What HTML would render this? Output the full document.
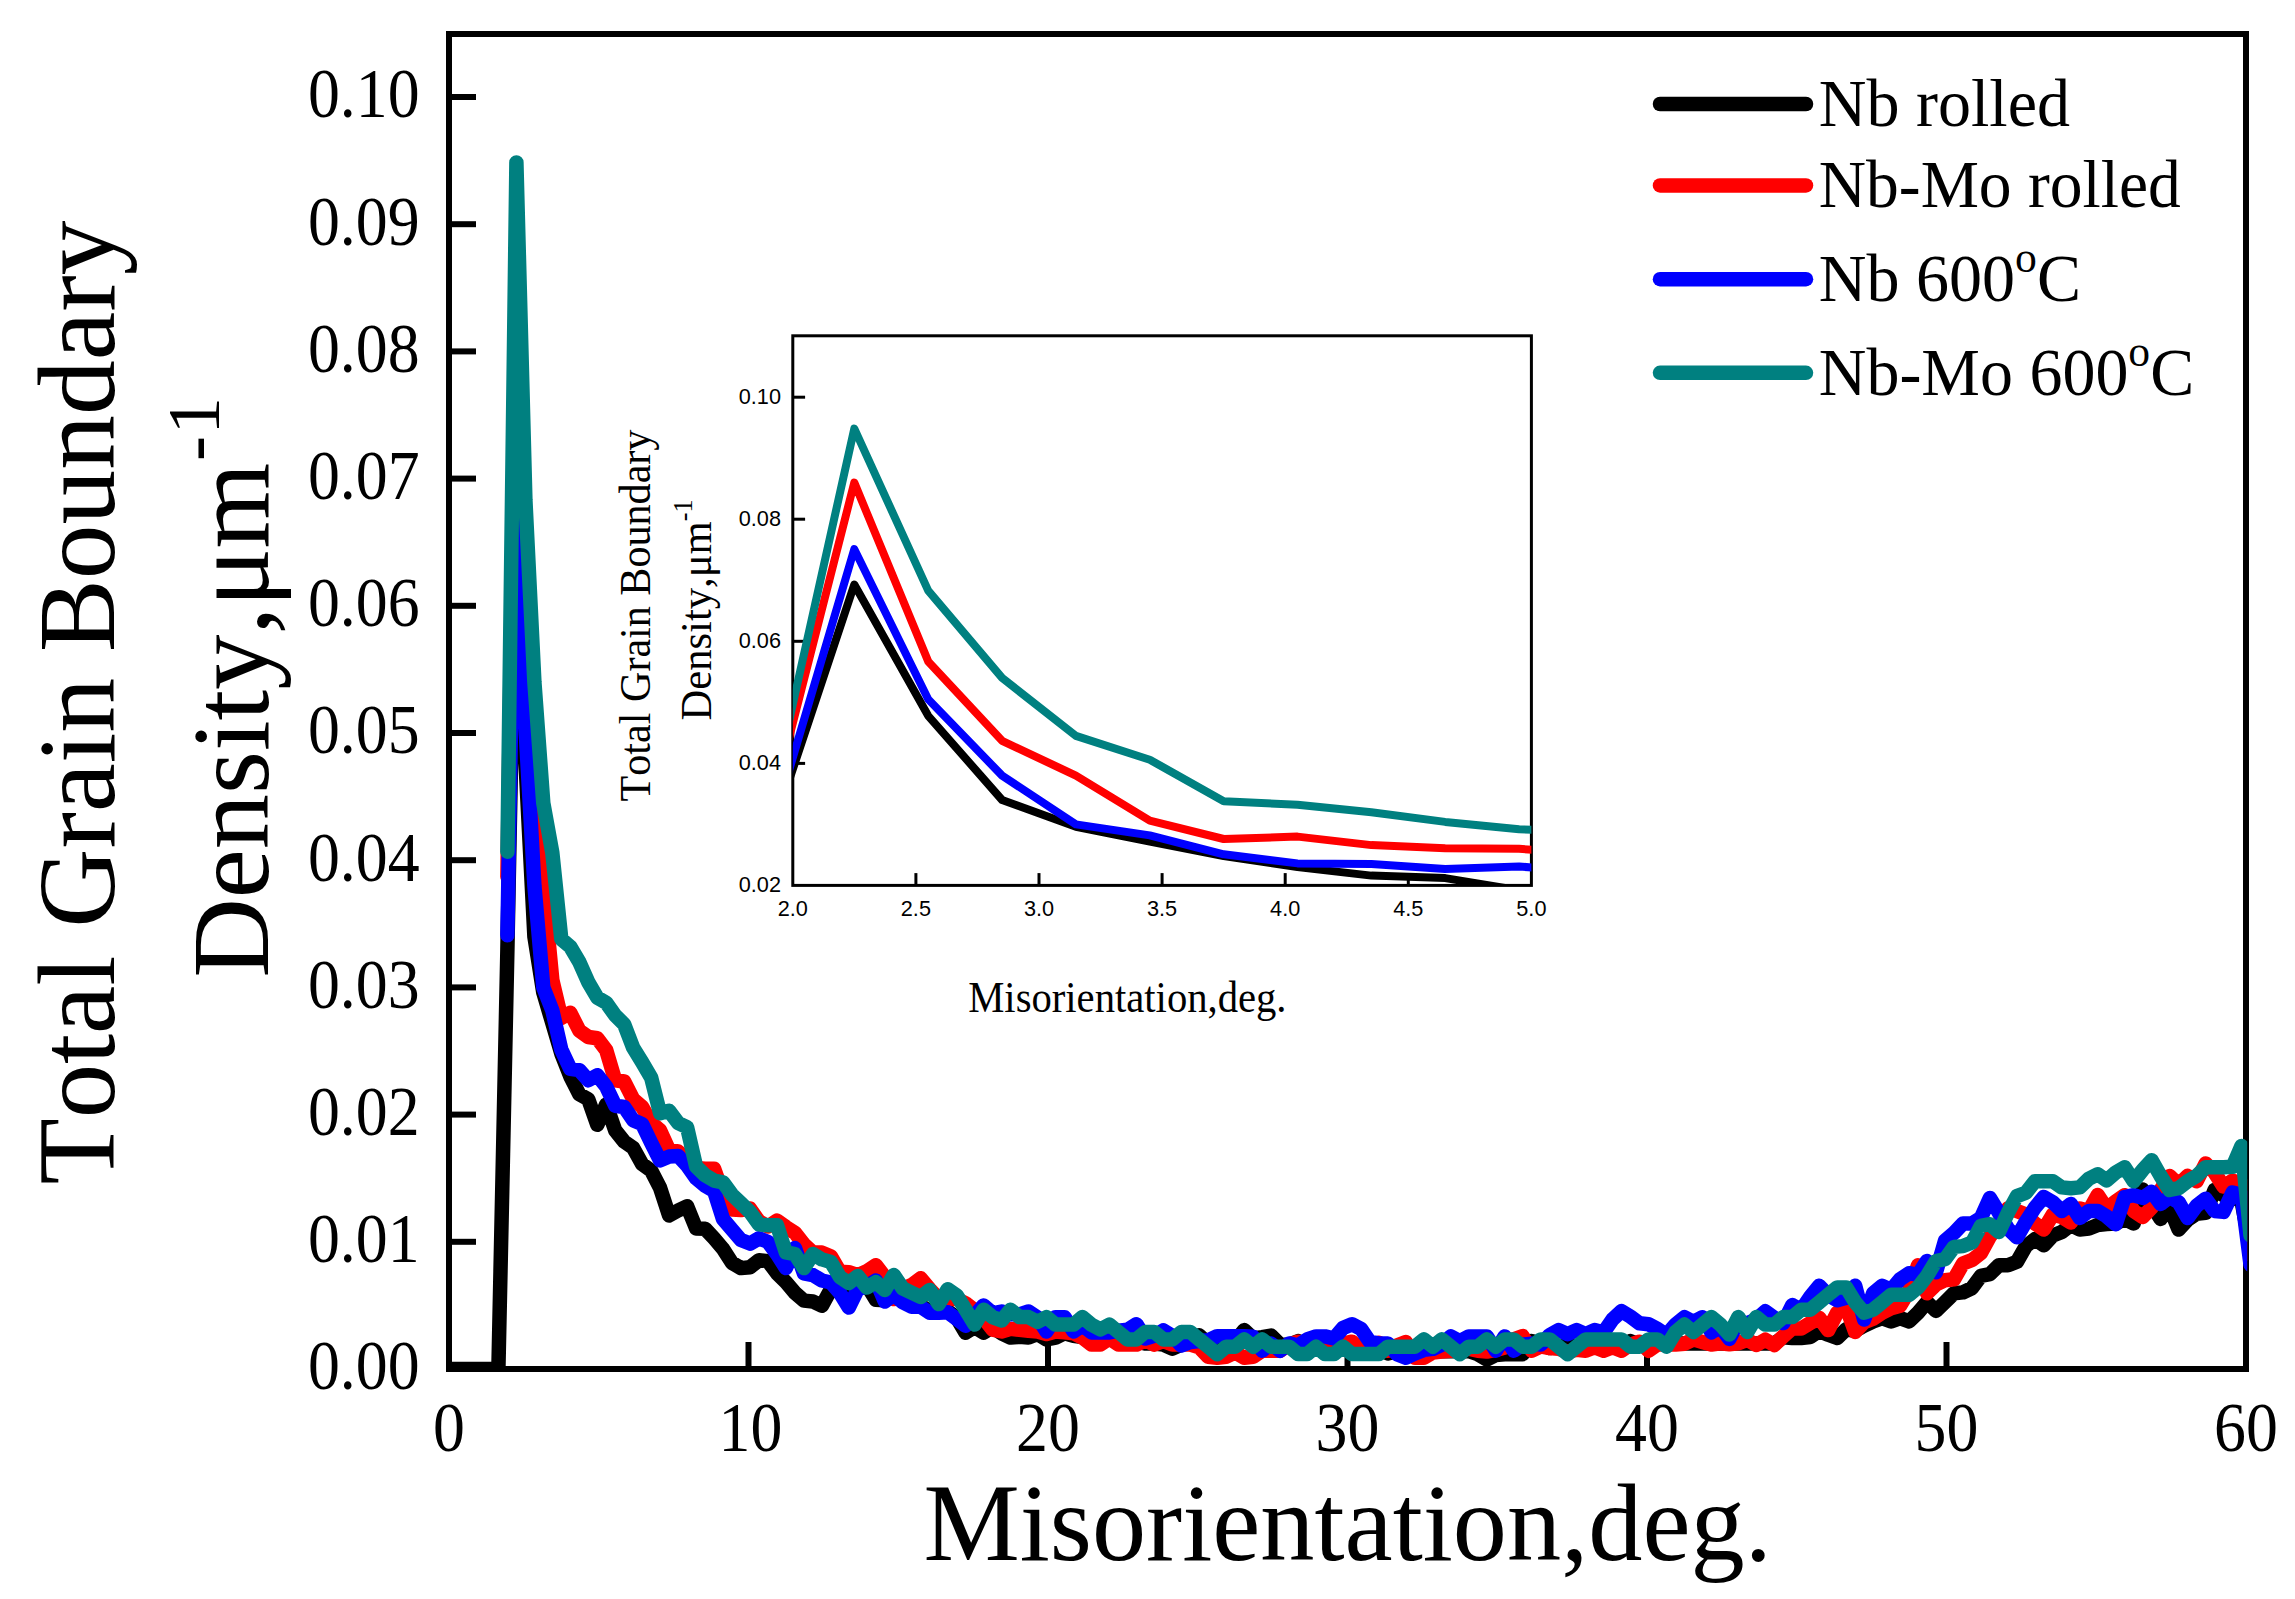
<!DOCTYPE html>
<html lang="en"><head><meta charset="utf-8"><title>Misorientation distribution</title>
<style>html,body{margin:0;padding:0;background:#fff}body{width:2295px;height:1599px;overflow:hidden}svg{display:block}
.s{font-family:"Liberation Serif","Times New Roman",Times,serif;fill:#000;font-kerning:none;font-variant-ligatures:none}.a{font-family:"Liberation Sans",Arial,Helvetica,sans-serif;fill:#000;font-kerning:none}
.ln{fill:none;stroke-linejoin:round;stroke-linecap:round}
</style></head><body>
<svg width="2295" height="1599" viewBox="0 0 2295 1599">
<rect width="2295" height="1599" fill="#fff"/>
<defs><clipPath id="cm"><rect x="449.0" y="34.0" width="1798.2" height="1335.5"/></clipPath>
<clipPath id="ci"><rect x="792.8" y="335.8" width="738.6" height="549.6"/></clipPath></defs>
<rect x="449.0" y="34.0" width="1797.0" height="1335.0" fill="none" stroke="#000" stroke-width="6"/>
<text class="s" font-size="69" text-anchor="end" transform="translate(419.6,1389.4) scale(0.925,1)">0.00</text>
<line x1="449.0" y1="1241.8" x2="476.0" y2="1241.8" stroke="#000" stroke-width="6"/>
<text class="s" font-size="69" text-anchor="end" transform="translate(419.6,1262.2) scale(0.925,1)">0.01</text>
<line x1="449.0" y1="1114.6" x2="476.0" y2="1114.6" stroke="#000" stroke-width="6"/>
<text class="s" font-size="69" text-anchor="end" transform="translate(419.6,1135.0) scale(0.925,1)">0.02</text>
<line x1="449.0" y1="987.4" x2="476.0" y2="987.4" stroke="#000" stroke-width="6"/>
<text class="s" font-size="69" text-anchor="end" transform="translate(419.6,1007.8) scale(0.925,1)">0.03</text>
<line x1="449.0" y1="860.2" x2="476.0" y2="860.2" stroke="#000" stroke-width="6"/>
<text class="s" font-size="69" text-anchor="end" transform="translate(419.6,880.6) scale(0.925,1)">0.04</text>
<line x1="449.0" y1="733.0" x2="476.0" y2="733.0" stroke="#000" stroke-width="6"/>
<text class="s" font-size="69" text-anchor="end" transform="translate(419.6,753.4) scale(0.925,1)">0.05</text>
<line x1="449.0" y1="605.8" x2="476.0" y2="605.8" stroke="#000" stroke-width="6"/>
<text class="s" font-size="69" text-anchor="end" transform="translate(419.6,626.2) scale(0.925,1)">0.06</text>
<line x1="449.0" y1="478.6" x2="476.0" y2="478.6" stroke="#000" stroke-width="6"/>
<text class="s" font-size="69" text-anchor="end" transform="translate(419.6,499.0) scale(0.925,1)">0.07</text>
<line x1="449.0" y1="351.4" x2="476.0" y2="351.4" stroke="#000" stroke-width="6"/>
<text class="s" font-size="69" text-anchor="end" transform="translate(419.6,371.8) scale(0.925,1)">0.08</text>
<line x1="449.0" y1="224.2" x2="476.0" y2="224.2" stroke="#000" stroke-width="6"/>
<text class="s" font-size="69" text-anchor="end" transform="translate(419.6,244.6) scale(0.925,1)">0.09</text>
<line x1="449.0" y1="97.0" x2="476.0" y2="97.0" stroke="#000" stroke-width="6"/>
<text class="s" font-size="69" text-anchor="end" transform="translate(419.6,117.4) scale(0.925,1)">0.10</text>
<text class="s" font-size="69" text-anchor="middle" transform="translate(449.0,1450.7) scale(0.925,1)">0</text>
<line x1="748.5" y1="1369.0" x2="748.5" y2="1342.0" stroke="#000" stroke-width="6"/>
<text class="s" font-size="69" text-anchor="middle" transform="translate(750.5,1450.7) scale(0.925,1)">10</text>
<line x1="1048.0" y1="1369.0" x2="1048.0" y2="1342.0" stroke="#000" stroke-width="6"/>
<text class="s" font-size="69" text-anchor="middle" transform="translate(1048.0,1450.7) scale(0.925,1)">20</text>
<line x1="1347.5" y1="1369.0" x2="1347.5" y2="1342.0" stroke="#000" stroke-width="6"/>
<text class="s" font-size="69" text-anchor="middle" transform="translate(1347.5,1450.7) scale(0.925,1)">30</text>
<line x1="1647.0" y1="1369.0" x2="1647.0" y2="1342.0" stroke="#000" stroke-width="6"/>
<text class="s" font-size="69" text-anchor="middle" transform="translate(1647.0,1450.7) scale(0.925,1)">40</text>
<line x1="1946.5" y1="1369.0" x2="1946.5" y2="1342.0" stroke="#000" stroke-width="6"/>
<text class="s" font-size="69" text-anchor="middle" transform="translate(1946.5,1450.7) scale(0.925,1)">50</text>
<text class="s" font-size="69" text-anchor="middle" transform="translate(2246.0,1450.7) scale(0.925,1)">60</text>
<text class="s" font-size="111" transform="translate(923.4,1559.8) scale(0.9760,1)">Misorientation,deg.</text>
<text class="s" font-size="111" transform="translate(113.8,1184.6) rotate(-90) scale(0.9780,1)">Total</text>
<text class="s" font-size="111" transform="translate(113.8,927.7) rotate(-90) scale(0.9886,1)">Grain</text>
<text class="s" font-size="111" transform="translate(113.8,652.3) rotate(-90) scale(0.9864,1)">Boundary</text>
<text class="s" font-size="110" transform="translate(267.5,977.8) rotate(-90) scale(1.003,1)">Density,μ<tspan dx="-0.5">m</tspan><tspan font-size="75" dx="1.6" dy="-48.5">-</tspan><tspan font-size="75" dx="1.4">1</tspan></text>
<g clip-path="url(#cm)" class="ln" stroke-width="14.5">
<polyline stroke="#000" points="449.0,1369.0 498.4,1369.0 507.4,949.2 516.4,487.5 525.4,761.0 534.4,936.5 543.3,992.5 552.3,1023.0 561.3,1053.5 570.3,1076.4 579.3,1094.2 588.3,1099.3 597.3,1124.8 606.2,1104.4 615.2,1130.4 624.2,1141.6 633.2,1147.9 642.2,1164.2 651.2,1170.6 660.1,1187.9 669.1,1215.5 678.1,1210.5 687.1,1206.2 696.1,1228.4 705.1,1228.7 714.1,1238.4 723.0,1248.9 732.0,1262.9 741.0,1268.1 750.0,1267.2 759.0,1260.2 768.0,1261.1 777.0,1273.3 785.9,1282.1 794.9,1292.7 803.9,1300.6 812.9,1301.5 821.9,1305.8 830.9,1289.2 839.8,1291.4 848.8,1302.9 857.8,1287.8 866.8,1285.0 875.8,1299.7 884.8,1300.2 893.8,1293.2 902.7,1301.1 911.7,1305.4 920.7,1305.4 929.7,1311.5 938.7,1311.5 947.7,1311.0 956.7,1317.7 965.6,1332.7 974.6,1327.0 983.6,1332.7 992.6,1327.0 1001.6,1333.4 1010.6,1337.6 1019.5,1336.8 1028.5,1337.6 1037.5,1334.1 1046.5,1339.4 1055.5,1337.6 1064.5,1333.3 1073.5,1335.9 1082.4,1337.2 1091.4,1338.5 1100.4,1339.7 1109.4,1338.5 1118.4,1341.0 1127.4,1341.0 1136.4,1341.0 1145.3,1343.6 1154.3,1343.6 1163.3,1344.6 1172.3,1348.6 1181.3,1344.6 1190.3,1341.0 1199.2,1335.5 1208.2,1343.6 1217.2,1346.1 1226.2,1346.1 1235.2,1341.0 1244.2,1330.1 1253.2,1338.5 1262.1,1337.2 1271.1,1335.5 1280.1,1344.6 1289.1,1344.8 1298.1,1341.1 1307.1,1346.1 1316.1,1348.6 1325.0,1348.6 1334.0,1348.6 1343.0,1348.6 1352.0,1348.6 1361.0,1348.6 1370.0,1348.6 1378.9,1348.6 1387.9,1353.4 1396.9,1351.2 1405.9,1351.2 1414.9,1351.2 1423.9,1351.2 1432.9,1351.2 1441.8,1351.2 1450.8,1351.2 1459.8,1351.2 1468.8,1351.2 1477.8,1354.2 1486.8,1359.5 1495.8,1355.0 1504.7,1354.2 1513.7,1354.2 1522.7,1354.2 1531.7,1341.1 1540.7,1344.6 1549.7,1348.1 1558.6,1346.1 1567.6,1346.1 1576.6,1346.1 1585.6,1346.1 1594.6,1346.1 1603.6,1346.1 1612.6,1346.1 1621.5,1346.1 1630.5,1341.1 1639.5,1344.8 1648.5,1341.0 1657.5,1343.6 1666.5,1343.6 1675.5,1343.6 1684.4,1343.6 1693.4,1343.6 1702.4,1343.6 1711.4,1343.6 1720.4,1343.6 1729.4,1343.6 1738.3,1343.6 1747.3,1343.6 1756.3,1343.6 1765.3,1343.6 1774.3,1343.6 1783.3,1337.2 1792.3,1338.0 1801.2,1338.0 1810.2,1337.1 1819.2,1331.0 1828.2,1334.7 1837.2,1338.0 1846.2,1329.3 1855.2,1330.8 1864.1,1325.8 1873.1,1321.4 1882.1,1318.1 1891.1,1321.4 1900.1,1318.1 1909.1,1321.4 1918.0,1312.7 1927.0,1302.1 1936.0,1310.9 1945.0,1302.1 1954.0,1293.3 1963.0,1292.4 1972.0,1288.1 1980.9,1275.9 1989.9,1274.1 1998.9,1265.3 2007.9,1265.3 2016.9,1261.8 2025.9,1246.1 2034.9,1239.1 2043.8,1245.2 2052.8,1235.6 2061.8,1232.0 2070.8,1225.0 2079.8,1229.5 2088.8,1228.6 2097.7,1225.0 2106.7,1224.1 2115.7,1223.4 2124.7,1218.9 2133.7,1223.4 2142.7,1189.6 2151.7,1204.9 2160.6,1218.9 2169.6,1207.6 2178.6,1229.5 2187.6,1219.8 2196.6,1213.7 2205.6,1212.8 2214.6,1190.0 2223.5,1195.2 2232.5,1197.3 2241.5,1201.1 2250.5,1248.2"/>
<polyline stroke="#ff0000" points="507.4,876.7 516.4,275.1 525.4,647.8 534.4,813.1 543.3,885.6 552.3,979.8 561.3,1017.9 570.3,1012.8 579.3,1030.6 588.3,1037.0 597.3,1038.3 606.2,1050.2 615.2,1080.3 624.2,1081.5 633.2,1099.3 642.2,1107.0 651.2,1122.9 660.1,1130.4 669.1,1150.2 678.1,1151.5 687.1,1159.1 696.1,1168.0 705.1,1168.8 714.1,1168.8 723.0,1193.5 732.0,1209.5 741.0,1210.0 750.0,1208.6 759.0,1221.4 768.0,1226.5 777.0,1220.6 785.9,1227.0 794.9,1232.8 803.9,1244.2 812.9,1252.6 821.9,1252.6 830.9,1256.4 839.8,1271.7 848.8,1272.2 857.8,1275.1 866.8,1271.3 875.8,1265.2 884.8,1276.9 893.8,1299.0 902.7,1288.9 911.7,1285.0 920.7,1278.3 929.7,1289.2 938.7,1299.0 947.7,1299.0 956.7,1299.0 965.6,1303.2 974.6,1310.2 983.6,1318.1 992.6,1329.6 1001.6,1331.5 1010.6,1328.9 1019.5,1329.8 1028.5,1330.8 1037.5,1331.5 1046.5,1334.1 1055.5,1331.5 1064.5,1332.4 1073.5,1333.3 1082.4,1337.6 1091.4,1344.6 1100.4,1344.6 1109.4,1338.5 1118.4,1344.6 1127.4,1344.6 1136.4,1344.6 1145.3,1340.3 1154.3,1344.6 1163.3,1341.1 1172.3,1344.6 1181.3,1344.6 1190.3,1344.6 1199.2,1347.2 1208.2,1356.8 1217.2,1357.7 1226.2,1356.8 1235.2,1352.5 1244.2,1357.7 1253.2,1356.8 1262.1,1350.7 1271.1,1350.7 1280.1,1350.7 1289.1,1344.6 1298.1,1341.7 1307.1,1344.6 1316.1,1344.8 1325.0,1344.8 1334.0,1344.8 1343.0,1343.6 1352.0,1341.7 1361.0,1349.9 1370.0,1351.6 1378.9,1342.8 1387.9,1350.7 1396.9,1345.5 1405.9,1342.0 1414.9,1357.7 1423.9,1357.7 1432.9,1352.5 1441.8,1351.6 1450.8,1350.7 1459.8,1348.1 1468.8,1348.6 1477.8,1350.7 1486.8,1351.6 1495.8,1349.9 1504.7,1347.4 1513.7,1339.4 1522.7,1336.2 1531.7,1350.7 1540.7,1346.4 1549.7,1348.1 1558.6,1348.9 1567.6,1351.6 1576.6,1349.9 1585.6,1350.7 1594.6,1347.2 1603.6,1350.7 1612.6,1347.2 1621.5,1350.7 1630.5,1344.6 1639.5,1341.7 1648.5,1350.7 1657.5,1344.6 1666.5,1344.6 1675.5,1344.6 1684.4,1343.7 1693.4,1339.4 1702.4,1342.0 1711.4,1344.6 1720.4,1343.3 1729.4,1344.2 1738.3,1343.3 1747.3,1339.7 1756.3,1345.0 1765.3,1339.7 1774.3,1345.0 1783.3,1336.3 1792.3,1328.4 1801.2,1328.4 1810.2,1323.1 1819.2,1317.9 1828.2,1330.1 1837.2,1312.7 1846.2,1307.3 1855.2,1331.9 1864.1,1322.2 1873.1,1318.8 1882.1,1312.7 1891.1,1308.2 1900.1,1305.7 1909.1,1290.8 1918.0,1265.3 1927.0,1293.3 1936.0,1284.5 1945.0,1280.2 1954.0,1279.3 1963.0,1263.6 1972.0,1260.1 1980.9,1253.1 1989.9,1236.5 1998.9,1225.0 2007.9,1208.5 2016.9,1211.0 2025.9,1214.6 2034.9,1223.4 2043.8,1229.5 2052.8,1214.6 2061.8,1217.1 2070.8,1222.5 2079.8,1208.5 2088.8,1211.0 2097.7,1195.0 2106.7,1208.5 2115.7,1201.5 2124.7,1195.2 2133.7,1211.0 2142.7,1217.1 2151.7,1207.6 2160.6,1190.0 2169.6,1176.0 2178.6,1184.8 2187.6,1176.0 2196.6,1181.3 2205.6,1163.4 2214.6,1172.5 2223.5,1186.5 2232.5,1180.7 2241.5,1183.3 2250.5,1254.5"/>
<polyline stroke="#0000ff" points="507.4,935.2 516.4,413.7 525.4,726.6 534.4,885.6 543.3,987.4 552.3,1010.3 561.3,1049.7 570.3,1068.8 579.3,1070.1 588.3,1080.3 597.3,1075.2 606.2,1086.6 615.2,1105.7 624.2,1107.0 633.2,1120.3 642.2,1124.1 651.2,1142.8 660.1,1160.4 669.1,1156.6 678.1,1155.9 687.1,1165.5 696.1,1178.2 705.1,1185.8 714.1,1191.0 723.0,1219.0 732.0,1229.6 741.0,1240.1 750.0,1243.6 759.0,1238.4 768.0,1241.9 777.0,1254.1 785.9,1268.1 794.9,1248.0 803.9,1273.3 812.9,1275.1 821.9,1280.5 830.9,1282.5 839.8,1292.7 848.8,1307.6 857.8,1289.1 866.8,1286.3 875.8,1280.5 884.8,1301.5 893.8,1294.5 902.7,1302.3 911.7,1306.7 920.7,1306.7 929.7,1312.8 938.7,1312.8 947.7,1312.3 956.7,1319.0 965.6,1325.8 974.6,1315.6 983.6,1305.4 992.6,1313.3 1001.6,1311.5 1010.6,1314.3 1019.5,1314.3 1028.5,1311.5 1037.5,1317.6 1046.5,1331.5 1055.5,1317.2 1064.5,1317.2 1073.5,1331.5 1082.4,1325.4 1091.4,1332.4 1100.4,1332.4 1109.4,1332.4 1118.4,1330.7 1127.4,1329.8 1136.4,1324.2 1145.3,1338.5 1154.3,1335.9 1163.3,1330.3 1172.3,1335.9 1181.3,1345.5 1190.3,1342.0 1199.2,1341.0 1208.2,1340.3 1217.2,1336.2 1226.2,1336.2 1235.2,1336.2 1244.2,1336.2 1253.2,1336.8 1262.1,1350.7 1271.1,1343.6 1280.1,1350.7 1289.1,1343.4 1298.1,1345.5 1307.1,1339.4 1316.1,1336.4 1325.0,1336.4 1334.0,1338.5 1343.0,1328.0 1352.0,1324.2 1361.0,1328.9 1370.0,1342.0 1378.9,1343.4 1387.9,1343.4 1396.9,1354.2 1405.9,1357.7 1414.9,1353.4 1423.9,1349.9 1432.9,1348.9 1441.8,1344.6 1450.8,1336.4 1459.8,1341.1 1468.8,1336.4 1477.8,1336.4 1486.8,1336.4 1495.8,1350.7 1504.7,1336.4 1513.7,1350.7 1522.7,1344.6 1531.7,1343.6 1540.7,1344.6 1549.7,1335.0 1558.6,1330.1 1567.6,1334.1 1576.6,1330.1 1585.6,1334.1 1594.6,1330.1 1603.6,1332.4 1612.6,1319.3 1621.5,1311.1 1630.5,1316.7 1639.5,1323.3 1648.5,1324.2 1657.5,1328.9 1666.5,1335.0 1675.5,1324.6 1684.4,1317.2 1693.4,1321.9 1702.4,1317.2 1711.4,1332.4 1720.4,1327.0 1729.4,1338.9 1738.3,1321.9 1747.3,1323.1 1756.3,1319.4 1765.3,1311.3 1774.3,1317.9 1783.3,1323.1 1792.3,1305.1 1801.2,1310.0 1810.2,1296.9 1819.2,1285.8 1828.2,1295.1 1837.2,1300.3 1846.2,1297.8 1855.2,1285.8 1864.1,1319.6 1873.1,1293.3 1882.1,1285.8 1891.1,1289.9 1900.1,1279.3 1909.1,1273.2 1918.0,1275.0 1927.0,1261.0 1936.0,1272.3 1945.0,1240.8 1954.0,1232.9 1963.0,1223.4 1972.0,1223.4 1980.9,1218.0 1989.9,1197.9 1998.9,1212.8 2007.9,1228.6 2016.9,1237.3 2025.9,1221.6 2034.9,1207.6 2043.8,1197.0 2052.8,1202.2 2061.8,1211.0 2070.8,1204.0 2079.8,1218.0 2088.8,1211.0 2097.7,1211.0 2106.7,1216.4 2115.7,1224.2 2124.7,1197.0 2133.7,1195.2 2142.7,1197.9 2151.7,1191.8 2160.6,1204.0 2169.6,1197.0 2178.6,1202.2 2187.6,1218.0 2196.6,1205.8 2205.6,1198.8 2214.6,1211.0 2223.5,1211.9 2232.5,1192.6 2241.5,1194.7 2250.5,1264.7"/>
<polyline stroke="#008080" points="507.4,851.8 516.4,162.5 525.4,500.2 534.4,682.1 543.3,803.0 552.3,852.6 561.3,939.1 570.3,946.7 579.3,962.0 588.3,982.3 597.3,997.6 606.2,1002.7 615.2,1015.4 624.2,1024.3 633.2,1047.8 642.2,1062.4 651.2,1077.7 660.1,1113.3 669.1,1110.8 678.1,1122.9 687.1,1127.3 696.1,1166.5 705.1,1175.3 714.1,1180.6 723.0,1182.3 732.0,1194.6 741.0,1203.3 750.0,1212.0 759.0,1224.4 768.0,1225.3 777.0,1225.3 785.9,1252.4 794.9,1254.1 803.9,1268.1 812.9,1254.1 821.9,1259.4 830.9,1262.0 839.8,1276.9 848.8,1283.0 857.8,1276.0 866.8,1287.5 875.8,1282.1 884.8,1290.0 893.8,1275.1 902.7,1288.4 911.7,1292.7 920.7,1297.0 929.7,1290.0 938.7,1304.1 947.7,1289.2 956.7,1295.4 965.6,1309.7 974.6,1324.6 983.6,1309.7 992.6,1317.1 1001.6,1320.5 1010.6,1309.7 1019.5,1317.1 1028.5,1317.1 1037.5,1321.9 1046.5,1317.1 1055.5,1324.6 1064.5,1324.6 1073.5,1324.6 1082.4,1317.1 1091.4,1324.6 1100.4,1329.4 1109.4,1324.6 1118.4,1332.0 1127.4,1339.4 1136.4,1339.4 1145.3,1332.0 1154.3,1332.0 1163.3,1339.4 1172.3,1339.4 1181.3,1332.0 1190.3,1332.0 1199.2,1339.4 1208.2,1346.7 1217.2,1354.1 1226.2,1346.7 1235.2,1346.7 1244.2,1339.4 1253.2,1346.7 1262.1,1339.4 1271.1,1346.7 1280.1,1346.7 1289.1,1346.7 1298.1,1354.1 1307.1,1354.1 1316.1,1346.7 1325.0,1354.1 1334.0,1354.1 1343.0,1346.7 1352.0,1354.1 1361.0,1354.1 1370.0,1354.1 1378.9,1354.1 1387.9,1346.7 1396.9,1346.7 1405.9,1346.7 1414.9,1346.7 1423.9,1339.4 1432.9,1346.7 1441.8,1339.4 1450.8,1346.7 1459.8,1354.1 1468.8,1346.7 1477.8,1346.7 1486.8,1339.4 1495.8,1346.7 1504.7,1339.4 1513.7,1339.4 1522.7,1346.7 1531.7,1346.7 1540.7,1339.4 1549.7,1339.4 1558.6,1346.7 1567.6,1354.1 1576.6,1346.7 1585.6,1339.4 1594.6,1339.4 1603.6,1339.4 1612.6,1339.4 1621.5,1339.4 1630.5,1346.7 1639.5,1346.7 1648.5,1339.4 1657.5,1339.4 1666.5,1346.7 1675.5,1332.0 1684.4,1324.6 1693.4,1332.0 1702.4,1324.6 1711.4,1317.1 1720.4,1324.6 1729.4,1334.5 1738.3,1317.1 1747.3,1332.0 1756.3,1317.1 1765.3,1324.6 1774.3,1324.6 1783.3,1317.1 1792.3,1317.1 1801.2,1309.7 1810.2,1309.7 1819.2,1302.3 1828.2,1294.8 1837.2,1287.5 1846.2,1287.5 1855.2,1302.3 1864.1,1312.7 1873.1,1309.7 1882.1,1302.3 1891.1,1294.8 1900.1,1294.8 1909.1,1294.8 1918.0,1287.5 1927.0,1275.9 1936.0,1261.0 1945.0,1259.2 1954.0,1246.9 1963.0,1246.1 1972.0,1242.6 1980.9,1225.9 1989.9,1224.2 1998.9,1232.0 2007.9,1212.8 2016.9,1196.1 2025.9,1192.7 2034.9,1181.3 2043.8,1181.3 2052.8,1181.3 2061.8,1187.4 2070.8,1188.2 2079.8,1187.4 2088.8,1178.7 2097.7,1174.3 2106.7,1180.4 2115.7,1172.5 2124.7,1167.3 2133.7,1181.3 2142.7,1169.9 2151.7,1160.3 2160.6,1176.0 2169.6,1190.0 2178.6,1188.2 2187.6,1181.3 2196.6,1176.0 2205.6,1167.3 2214.6,1167.3 2223.5,1167.3 2232.5,1166.8 2241.5,1146.0 2250.5,1235.4"/>
</g>
<line x1="1660" y1="104.0" x2="1806" y2="104.0" stroke="#000" stroke-width="14.5" stroke-linecap="round"/>
<text class="s" font-size="68" transform="translate(1818.8,126.2) scale(0.971,1)">Nb rolled</text>
<line x1="1660" y1="185.4" x2="1806" y2="185.4" stroke="#ff0000" stroke-width="14.5" stroke-linecap="round"/>
<text class="s" font-size="68" transform="translate(1818.8,207.0) scale(0.963,1)">Nb-Mo rolled</text>
<line x1="1660" y1="279.2" x2="1806" y2="279.2" stroke="#0000ff" stroke-width="14.5" stroke-linecap="round"/>
<text class="s" font-size="68" transform="translate(1818.8,301.1) scale(0.971,1)">Nb 600<tspan font-size="45" dy="-29">o</tspan><tspan dy="29">C</tspan></text>
<line x1="1660" y1="372.8" x2="1806" y2="372.8" stroke="#008080" stroke-width="14.5" stroke-linecap="round"/>
<text class="s" font-size="68" transform="translate(1818.8,395.2) scale(0.970,1)">Nb-Mo 600<tspan font-size="45" dy="-29">o</tspan><tspan dy="29">C</tspan></text>
<rect x="792.8" y="335.8" width="738.6" height="549.6" fill="#fff" stroke="#000" stroke-width="3"/>
<text class="a" font-size="21.7" text-anchor="end" x="781.0" y="891.8">0.02</text>
<line x1="792.8" y1="763.4" x2="805.1" y2="763.4" stroke="#000" stroke-width="3"/>
<text class="a" font-size="21.7" text-anchor="end" x="781.0" y="769.8">0.04</text>
<line x1="792.8" y1="641.3" x2="805.1" y2="641.3" stroke="#000" stroke-width="3"/>
<text class="a" font-size="21.7" text-anchor="end" x="781.0" y="647.7">0.06</text>
<line x1="792.8" y1="519.2" x2="805.1" y2="519.2" stroke="#000" stroke-width="3"/>
<text class="a" font-size="21.7" text-anchor="end" x="781.0" y="525.6">0.08</text>
<line x1="792.8" y1="397.2" x2="805.1" y2="397.2" stroke="#000" stroke-width="3"/>
<text class="a" font-size="21.7" text-anchor="end" x="781.0" y="403.6">0.10</text>
<text class="a" font-size="21.7" text-anchor="middle" x="792.8" y="915.9">2.0</text>
<line x1="915.9" y1="885.4" x2="915.9" y2="873.1" stroke="#000" stroke-width="3"/>
<text class="a" font-size="21.7" text-anchor="middle" x="915.9" y="915.9">2.5</text>
<line x1="1039.0" y1="885.4" x2="1039.0" y2="873.1" stroke="#000" stroke-width="3"/>
<text class="a" font-size="21.7" text-anchor="middle" x="1039.0" y="915.9">3.0</text>
<line x1="1162.1" y1="885.4" x2="1162.1" y2="873.1" stroke="#000" stroke-width="3"/>
<text class="a" font-size="21.7" text-anchor="middle" x="1162.1" y="915.9">3.5</text>
<line x1="1285.2" y1="885.4" x2="1285.2" y2="873.1" stroke="#000" stroke-width="3"/>
<text class="a" font-size="21.7" text-anchor="middle" x="1285.2" y="915.9">4.0</text>
<line x1="1408.3" y1="885.4" x2="1408.3" y2="873.1" stroke="#000" stroke-width="3"/>
<text class="a" font-size="21.7" text-anchor="middle" x="1408.3" y="915.9">4.5</text>
<text class="a" font-size="21.7" text-anchor="middle" x="1531.4" y="915.9">5.0</text>
<text class="s" font-size="43.6" transform="translate(968.2,1011.8) scale(0.9325,1)">Misorientation,deg.</text>
<text class="s" font-size="44.9" transform="translate(650.0,801.4) rotate(-90) scale(0.9380,1)">Total Grain Boundary</text>
<text class="s" font-size="44" transform="translate(710.7,720.5) rotate(-90) scale(0.969,1)">Density,μm<tspan font-size="27" dx="0" dy="-18.8">-1</tspan></text>
<g clip-path="url(#ci)" class="ln" stroke-width="8">
<polyline stroke="#000" points="780.5,806.1 854.3,584.5 928.2,715.8 1002.1,800.0 1075.9,826.8 1149.8,841.5 1223.7,856.1 1297.5,867.1 1371.4,875.6 1445.2,878.1 1519.1,890.3 1593.0,880.5 1666.8,893.0"/>
<polyline stroke="#ff0000" points="780.5,771.3 854.3,482.6 928.2,661.4 1002.1,740.8 1075.9,775.6 1149.8,820.7 1223.7,839.0 1297.5,836.6 1371.4,845.1 1445.2,848.2 1519.1,848.8 1593.0,854.5 1666.8,868.9"/>
<polyline stroke="#0000ff" points="780.5,799.4 854.3,549.2 928.2,699.3 1002.1,775.6 1075.9,824.4 1149.8,835.4 1223.7,854.3 1297.5,863.4 1371.4,864.0 1445.2,868.9 1519.1,866.5 1593.0,872.0 1666.8,881.1"/>
<polyline stroke="#008080" points="780.5,759.3 854.3,428.6 928.2,590.6 1002.1,677.9 1075.9,735.9 1149.8,759.7 1223.7,801.2 1297.5,804.8 1371.4,812.2 1445.2,821.9 1519.1,829.3 1593.0,831.7 1666.8,837.8"/>
</g>
</svg></body></html>
